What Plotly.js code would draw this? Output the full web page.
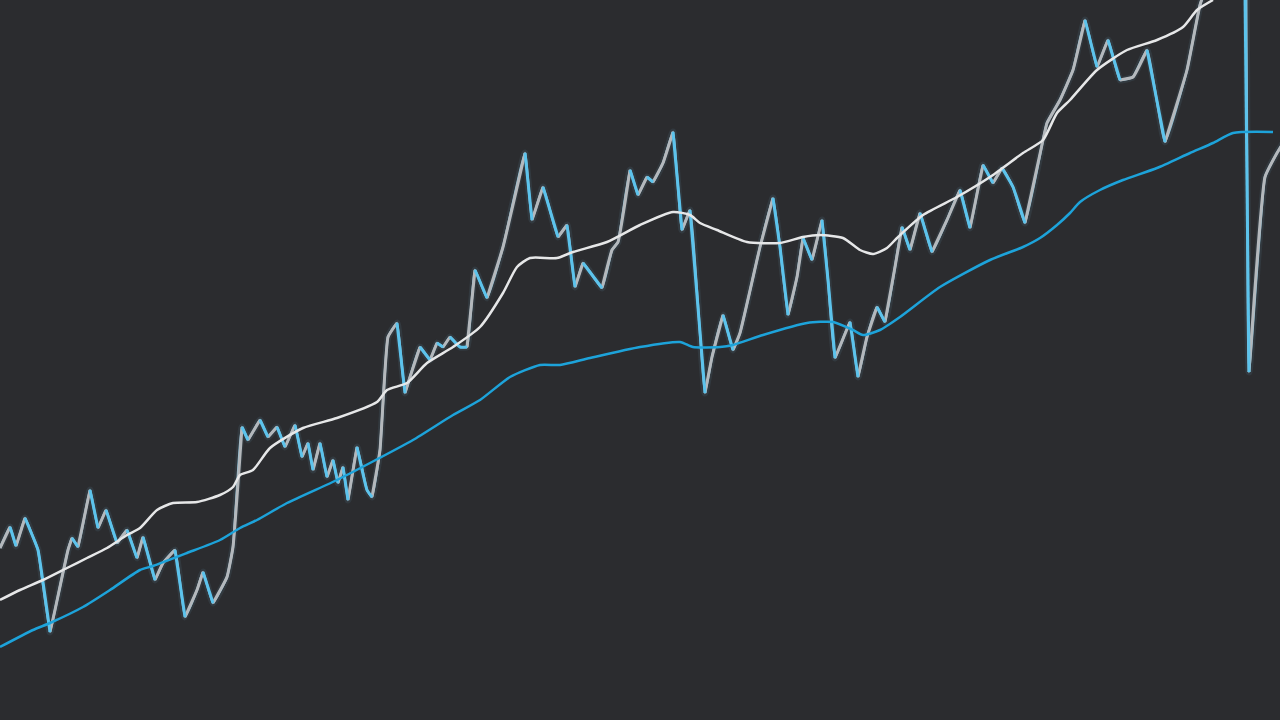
<!DOCTYPE html>
<html>
<head>
<meta charset="utf-8">
<script src="https://cdn.plot.ly/plotly-3.0.1.min.js"></script>
<style>html,body{margin:0;padding:0;background:#2b2c2f;}#chart{width:1280px;height:720px;}</style>
</head>
<body>
<div id="chart"></div>
<script>
// Price path (x position, level; level axis runs top=0 to bottom=720)
const priceX = [0,10,16,25,33,38,50,55,68,72,78,90,98,106,117,127,137,143,155,163,175,185,197,203,213,227,233,242,248,260,268,277,285,295,302,308,313,320,327,333,338,343,348,357,367,372,380,388,397,402,405,410,420,430,437,443,450,460,467,475,487,503,525,532,543,558,567,575,583,602,612,618,630,638,647,653,663,673,682,690,705,712,723,733,740,760,773,780,788,797,803,812,822,828,835,850,858,867,877,885,895,902,910,920,932,947,960,970,983,993,1002,1013,1025,1043,1047,1060,1073,1085,1097,1108,1120,1133,1147,1165,1187,1200,1215,1243,1249,1265,1277,1285];
const priceY = [548,527,546,518,537,550,632,610,550,538,547,490,528,510,543,530,558,537,580,563,550,617,590,572,603,577,547,427,440,420,437,427,447,425,457,443,470,443,477,460,483,467,500,447,490,497,450,337,323,367,393,377,347,360,343,347,337,347,347,270,298,247,153,220,187,237,225,287,263,288,250,242,170,195,177,182,163,132,230,210,393,357,315,350,333,247,198,247,315,277,238,260,220,280,358,322,377,337,307,322,267,227,250,213,252,220,190,228,165,183,168,187,223,140,123,100,70,20,67,40,80,77,50,142,70,5,-40,-200,372,177,153,140];

// Fast moving average
const fastX = [0,20,43,67,87,107,127,140,157,173,197,220,233,240,253,270,303,337,377,387,407,427,453,480,503,517,530,557,573,607,640,673,690,700,717,747,780,803,820,843,860,873,887,897,923,957,990,1023,1043,1057,1070,1097,1127,1157,1183,1197,1213];
const fastY = [600,590,580,568,558,548,535,528,510,503,502,495,487,475,470,448,428,418,402,390,383,363,347,327,293,267,258,258,252,242,225,212,215,223,230,242,243,237,235,238,250,254,248,238,215,197,177,153,140,113,100,70,50,40,27,10,0];

// Slow moving average
const slowX = [0,33,50,83,110,140,153,187,220,240,257,287,337,370,413,453,480,510,540,560,590,640,680,693,720,733,763,807,833,853,863,880,900,940,990,1023,1040,1057,1070,1080,1100,1123,1157,1190,1213,1233,1273];
const slowY = [647,630,623,607,590,570,566,553,540,528,520,503,480,463,440,415,400,377,365,365,358,347,342,347,347,345,335,323,322,330,335,330,317,287,260,247,238,225,213,202,190,180,168,153,143,133,132];

const riseColor = '#b4b8bc';
const fallColor = '#5cc3ec';

// split price path into rising / falling runs
function splitRuns(xs, ys) {
  const up = {x: [], y: []}, dn = {x: [], y: []};
  let prevDir = null;
  for (let i = 0; i < xs.length - 1; i++) {
    const dir = ys[i + 1] < ys[i] ? 'up' : 'dn';
    const t = dir === 'up' ? up : dn;
    if (dir !== prevDir) {
      if (t.x.length) { t.x.push(null); t.y.push(null); }
      t.x.push(xs[i]); t.y.push(ys[i]);
    }
    t.x.push(xs[i + 1]); t.y.push(ys[i + 1]);
    prevDir = dir;
  }
  return {up, dn};
}
const runs = splitRuns(priceX, priceY);
const pLine = {shape: 'spline', smoothing: 0.35};

const traces = [
  {x: priceX, y: priceY, mode: 'lines', line: Object.assign({color: 'rgba(120,180,210,0.10)', width: 7}, pLine), hoverinfo: 'skip'},
  {x: priceX, y: priceY, mode: 'lines', line: Object.assign({color: '#8cbfd6', width: 2.4}, pLine), hoverinfo: 'skip'},
  {x: runs.up.x, y: runs.up.y, mode: 'lines', connectgaps: false, line: Object.assign({color: riseColor, width: 3}, pLine), hoverinfo: 'skip'},
  {x: runs.dn.x, y: runs.dn.y, mode: 'lines', connectgaps: false, line: Object.assign({color: fallColor, width: 3}, pLine), hoverinfo: 'skip'},
  {x: slowX, y: slowY, mode: 'lines', line: {color: '#1da3da', width: 2.5, shape: 'spline', smoothing: 0.6}, hoverinfo: 'skip'},
  {x: fastX, y: fastY, mode: 'lines', line: {color: '#e6e7e8', width: 2.5, shape: 'spline', smoothing: 0.6}, hoverinfo: 'skip'}
];

const layout = {
  width: 1280, height: 720,
  margin: {l: 0, r: 0, t: 0, b: 0},
  paper_bgcolor: '#2b2c2f', plot_bgcolor: '#2b2c2f',
  showlegend: false,
  xaxis: {range: [0, 1280], visible: false, fixedrange: true},
  yaxis: {range: [720, 0], visible: false, fixedrange: true}
};

Plotly.newPlot('chart', traces, layout, {displayModeBar: false, staticPlot: true});
</script>
</body>
</html>
